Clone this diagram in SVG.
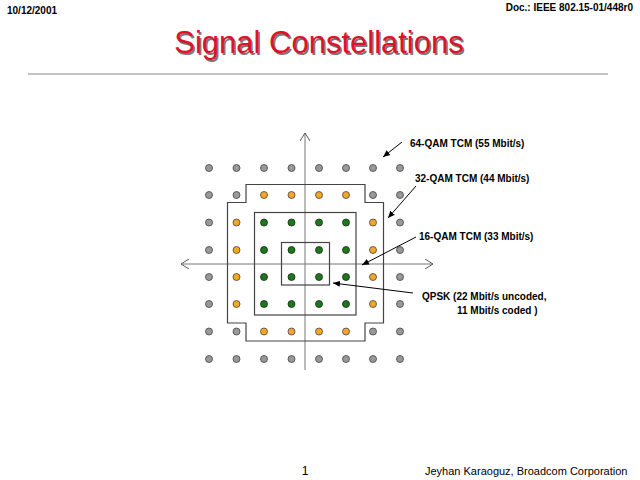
<svg xmlns="http://www.w3.org/2000/svg" width="640" height="480" viewBox="0 0 640 480">
<defs>
<marker id="ah" markerWidth="8" markerHeight="8" refX="7" refY="4" orient="auto" markerUnits="userSpaceOnUse"><path d="M0,1 L7,4 L0,7 z" fill="#000"/></marker>
<marker id="ax" markerWidth="10" markerHeight="10" refX="8" refY="5" orient="auto" markerUnits="userSpaceOnUse"><path d="M0,0 L8,5 L0,10" fill="none" stroke="#555" stroke-width="1"/></marker>
</defs>
<style>
text{font-family:"Liberation Sans",Arial,sans-serif}
.h{font-size:10px;font-weight:bold}
.l{font-size:10px;font-weight:bold}
.g{fill:#999;stroke:#444;stroke-width:0.8}
.o{fill:#f5a623;stroke:#444;stroke-width:0.8}
.n{fill:#1a7a1a;stroke:#222;stroke-width:0.8}
.b{fill:none;stroke:#444;stroke-width:1.2}
</style>
<rect width="640" height="480" fill="#fff"/>
<text class="h" x="7" y="14">10/12/2001</text>
<text class="h" x="633" y="11" text-anchor="end">Doc.: IEEE 802.15-01/448r0</text>
<text x="320.5" y="54.5" font-size="31" text-anchor="middle" fill="#777">Signal Constellations</text>
<text x="319" y="53" font-size="31" text-anchor="middle" fill="#e0102a">Signal Constellations</text>
<line x1="28" y1="74" x2="608" y2="74" stroke="#888" stroke-width="1.2"/>
<g id="axes">
<line x1="305" y1="370" x2="305" y2="133" stroke="#777" marker-end="url(#ax)"/>
<line x1="305" y1="264" x2="181" y2="264" stroke="#777" marker-end="url(#ax)"/>
<line x1="305" y1="264" x2="433" y2="264" stroke="#777" marker-end="url(#ax)"/>
</g>
<g id="dots">
<g class="g">
<circle cx="209" cy="168" r="3.5"/><circle cx="236.5" cy="168" r="3.5"/><circle cx="264" cy="168" r="3.5"/><circle cx="291.5" cy="168" r="3.5"/><circle cx="319" cy="168" r="3.5"/><circle cx="346" cy="168" r="3.5"/><circle cx="373" cy="168" r="3.5"/><circle cx="400" cy="168" r="3.5"/>
<circle cx="209" cy="359" r="3.5"/><circle cx="236.5" cy="359" r="3.5"/><circle cx="264" cy="359" r="3.5"/><circle cx="291.5" cy="359" r="3.5"/><circle cx="319" cy="359" r="3.5"/><circle cx="346" cy="359" r="3.5"/><circle cx="373" cy="359" r="3.5"/><circle cx="400" cy="359" r="3.5"/>
<circle cx="209" cy="195" r="3.5"/><circle cx="209" cy="222.5" r="3.5"/><circle cx="209" cy="250" r="3.5"/><circle cx="209" cy="277" r="3.5"/><circle cx="209" cy="304" r="3.5"/><circle cx="209" cy="331.5" r="3.5"/>
<circle cx="400" cy="195" r="3.5"/><circle cx="400" cy="222.5" r="3.5"/><circle cx="400" cy="250" r="3.5"/><circle cx="400" cy="277" r="3.5"/><circle cx="400" cy="304" r="3.5"/><circle cx="400" cy="331.5" r="3.5"/>
<circle cx="236.5" cy="195" r="3.5"/><circle cx="373" cy="195" r="3.5"/><circle cx="236.5" cy="331.5" r="3.5"/><circle cx="373" cy="331.5" r="3.5"/>
</g>
<g class="o">
<circle cx="264" cy="195" r="3.5"/><circle cx="291.5" cy="195" r="3.5"/><circle cx="319" cy="195" r="3.5"/><circle cx="346" cy="195" r="3.5"/>
<circle cx="264" cy="331.5" r="3.5"/><circle cx="291.5" cy="331.5" r="3.5"/><circle cx="319" cy="331.5" r="3.5"/><circle cx="346" cy="331.5" r="3.5"/>
<circle cx="236.5" cy="222.5" r="3.5"/><circle cx="236.5" cy="250" r="3.5"/><circle cx="236.5" cy="277" r="3.5"/><circle cx="236.5" cy="304" r="3.5"/>
<circle cx="373" cy="222.5" r="3.5"/><circle cx="373" cy="250" r="3.5"/><circle cx="373" cy="277" r="3.5"/><circle cx="373" cy="304" r="3.5"/>
</g>
<g class="n">
<circle cx="264" cy="222.5" r="3.5"/><circle cx="291.5" cy="222.5" r="3.5"/><circle cx="319" cy="222.5" r="3.5"/><circle cx="346" cy="222.5" r="3.5"/>
<circle cx="264" cy="250" r="3.5"/><circle cx="291.5" cy="250" r="3.5"/><circle cx="319" cy="250" r="3.5"/><circle cx="346" cy="250" r="3.5"/>
<circle cx="264" cy="277" r="3.5"/><circle cx="291.5" cy="277" r="3.5"/><circle cx="319" cy="277" r="3.5"/><circle cx="346" cy="277" r="3.5"/>
<circle cx="264" cy="304" r="3.5"/><circle cx="291.5" cy="304" r="3.5"/><circle cx="319" cy="304" r="3.5"/><circle cx="346" cy="304" r="3.5"/>
</g>
</g>
<g id="qam32"><path class="b" d="M246,184.5 H365 V202.5 H383.5 V323 H365 V341 H246 V323 H227.5 V202.5 H246 Z"/></g>
<g id="qam16"><rect class="b" x="254.5" y="212.5" width="101.5" height="102.5"/></g>
<g id="qpsk"><rect class="b" x="281.5" y="242.5" width="48" height="42.5"/></g>
<g id="connectors" stroke="#000" stroke-width="1">
<line x1="402" y1="142" x2="383" y2="157" marker-end="url(#ah)"/>
<line x1="416" y1="186" x2="388" y2="218" marker-end="url(#ah)"/>
<line x1="416" y1="237" x2="362" y2="265" marker-end="url(#ah)"/>
<line x1="413" y1="293" x2="333" y2="283" marker-end="url(#ah)"/>
</g>
<g id="labels">
<text class="l" x="410" y="147">64-QAM TCM (55 Mbit/s)</text>
<text class="l" x="415" y="182">32-QAM TCM (44 Mbit/s)</text>
<text class="l" x="419" y="240">16-QAM TCM (33 Mbit/s)</text>
<text class="l" x="422" y="300">QPSK (22 Mbit/s uncoded,</text>
<text class="l" x="457" y="314">11 Mbit/s coded )</text>
</g>
<text x="305" y="475" font-size="12" text-anchor="middle">1</text>
<text x="425" y="475" font-size="11">Jeyhan Karaoguz, Broadcom Corporation</text>
</svg>
